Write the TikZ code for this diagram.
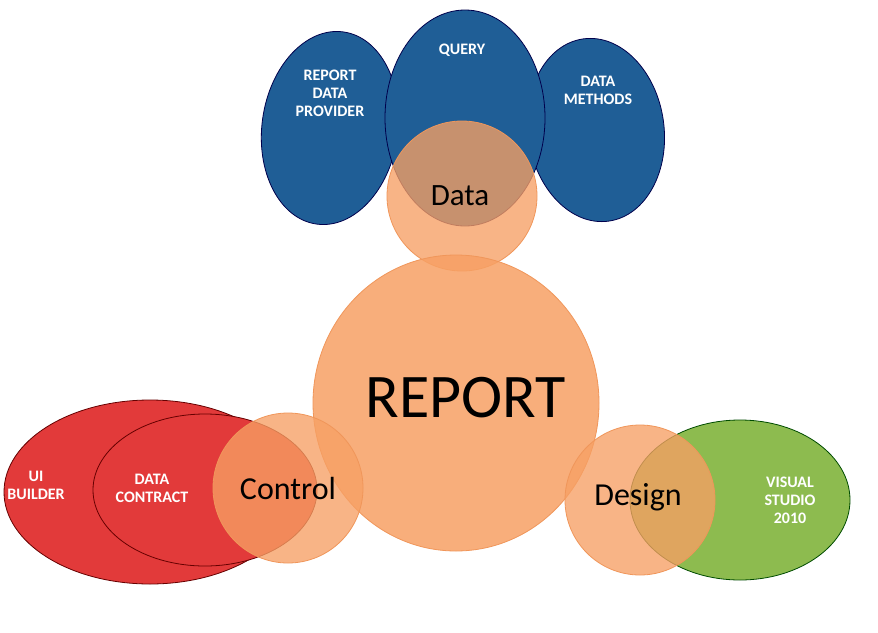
\documentclass[tikz,border=0pt]{standalone}
\usepackage{fontspec}
\setmainfont{Carlito}
\begin{document}
\begin{tikzpicture}[x=1pt,y=-1pt,
  blueel/.style={draw=blue!30!black,line width=0.8pt,fill={rgb,255:red,31;green,94;blue,150}},
  redel/.style={draw=red!40!black,line width=0.8pt,fill={rgb,255:red,226;green,58;blue,58}},
  greenel/.style={draw=green!30!black,line width=0.8pt,fill={rgb,255:red,141;green,187;blue,79}},
  orc/.style={draw={rgb,255:red,240;green,150;blue,90},line width=0.8pt,fill={rgb,255:red,247;green,160;blue,100},fill opacity=0.78},
  lbl/.style={text=white,font=\bfseries\fontsize{16}{18}\selectfont,align=center},
  big/.style={text=black}]
\useasboundingbox (0,0) rectangle (878,632);
\fill[white] (0,0) rectangle (878,632);
% blue
\draw[blueel,rotate around={-8:(330,128)}] (330,128) ellipse (68 and 97);
\draw[blueel,rotate around={8:(596,130)}] (596,130) ellipse (68 and 92);
\draw[blueel] (465,118) ellipse (80 and 108);
\node[lbl] (rdp) at (330,93) {REPORT\\DATA\\PROVIDER};
\node[lbl] (dm) at (598,90) {DATA\\METHODS};
\node[lbl] (q) at (462,50) {QUERY};
\draw[orc] (462,196) circle (75);
\node[big,font=\fontsize{31}{36}\selectfont] (data) at (460,196) {Data};
% report
\draw[orc,fill opacity=0.85] (456,403) ellipse (143 and 148);
\node[big,font=\fontsize{62}{70}\selectfont] (rep) at (466,398) {REPORT};
% red
\draw[redel] (150,492) ellipse (146 and 92);
\draw[redel] (205,490) ellipse (112 and 76);
\node[lbl] (ui) at (36,485) {UI\\BUILDER};
\node[lbl] (dc) at (152,488) {DATA\\CONTRACT};
\draw[orc] (288,488) circle (75);
\node[big,font=\fontsize{32}{36}\selectfont] (ctl) at (288,489) {Control};
% green
\draw[greenel] (740,500) ellipse (110 and 80);
\node[lbl] (vs) at (790,500) {VISUAL\\STUDIO\\2010};
\draw[orc] (640,500) circle (75);
\node[big,font=\fontsize{32}{36}\selectfont] (des) at (638,497) {Design};
\end{tikzpicture}
\end{document}
